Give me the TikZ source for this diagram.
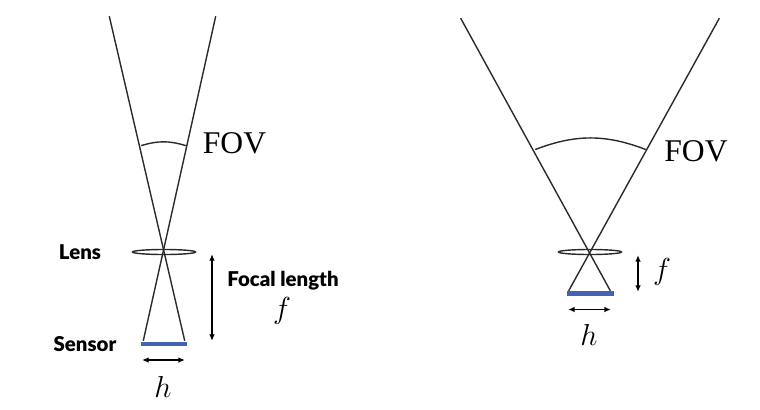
\documentclass[tikz,border=0pt]{standalone}
\usepackage{fontspec}
\setsansfont[BoldFont={Lato Black}]{Lato}
\newfontfamily\fovfont{Liberation Serif}
\usepackage{tikz}
\usetikzlibrary{shapes.geometric}
\usetikzlibrary{arrows.meta}
\pgfdeclarelayer{nodelayer}
\pgfdeclarelayer{edgelayer}
\pgfsetlayers{edgelayer,nodelayer,main}
\definecolor{sensorblue}{HTML}{4463B4}
\definecolor{inkgrey}{HTML}{2B2B2B}
\tikzset{none/.style={inner sep=0pt}}
\tikzset{lens/.style={draw=inkgrey, line width=.8pt, ellipse, inner sep=0pt, minimum width=1.26cm, minimum height=.1cm}}
\tikzset{sensor/.style={fill=sensorblue, rectangle, inner sep=0pt, minimum width=.94cm, minimum height=.085cm}}
\tikzset{tag/.style={inner sep=0pt, font=\sffamily\bfseries\fontsize{11.6}{13}\selectfont}}
\tikzset{fov/.style={inner sep=0pt, font=\fovfont\fontsize{18}{20}\selectfont}}
\tikzset{sym/.style={inner sep=0pt, font=\fontsize{17}{20}\selectfont}}
\tikzset{ray/.style={draw=inkgrey, line width=.8pt}}
\tikzset{size/.style={draw=black, line width=.65pt, {Latex[length=3.6pt,width=3.2pt]}-{Latex[length=3.6pt,width=3.2pt]}}}
\begin{document}
\begin{tikzpicture}[x=.02cm, y=-.02cm]
	\useasboundingbox (0, 0) rectangle (760, 409);
	\begin{pgfonlayer}{nodelayer}
		\node [style=none] (0) at (109, 15) {};
		\node [style=none] (1) at (216, 15) {};
		\node [style=none] (2) at (143, 342) {};
		\node [style=none] (3) at (185, 342) {};
		\node [style=lens] (4) at (164, 252) {};
		\node [style=sensor] (5) at (164, 344) {};
		\node [style=none] (6) at (141, 360) {};
		\node [style=none] (7) at (186, 360) {};
		\node [style=none] (8) at (212, 253) {};
		\node [style=none] (9) at (212, 342) {};
		\node [style=none] (10) at (140, 146) {};
		\node [style=none] (11) at (187, 146) {};
		\node [style=tag] (12) at (80, 252) {Lens};
		\node [style=tag] (13) at (85, 344) {Sensor};
		\node [style=tag] (14) at (283, 281) {Focal length};
		\node [style=sym] (15) at (282, 311) {$f$};
		\node [style=sym] (16) at (163, 387) {$h$};
		\node [style=fov] (17) at (234.5, 143) {FOV};
		\node [style=none] (18) at (460, 17) {};
		\node [style=none] (19) at (720, 17) {};
		\node [style=none] (20) at (568, 292) {};
		\node [style=none] (21) at (611, 292) {};
		\node [style=lens] (22) at (590, 252) {};
		\node [style=sensor] (23) at (590, 293.5) {};
		\node [style=none] (24) at (567, 309.5) {};
		\node [style=none] (25) at (612, 309.5) {};
		\node [style=none] (26) at (638, 254) {};
		\node [style=none] (27) at (638, 293) {};
		\node [style=none] (28) at (534, 150) {};
		\node [style=none] (29) at (647, 150) {};
		\node [style=sym] (30) at (662, 272) {$f$};
		\node [style=sym] (31) at (589, 335) {$h$};
		\node [style=fov] (32) at (696, 151) {FOV};
	\end{pgfonlayer}
	\begin{pgfonlayer}{edgelayer}
		\draw [style=ray] (0) to (3);
		\draw [style=ray] (1) to (2);
		\draw [style=ray, bend left=17] (10) to (11);
		\draw [style=size] (6) to (7);
		\draw [style=size] (8) to (9);
		\draw [style=ray] (18) to (21);
		\draw [style=ray] (19) to (20);
		\draw [style=ray, bend left=21] (28) to (29);
		\draw [style=size] (24) to (25);
		\draw [style=size] (26) to (27);
	\end{pgfonlayer}
\end{tikzpicture}
\end{document}
